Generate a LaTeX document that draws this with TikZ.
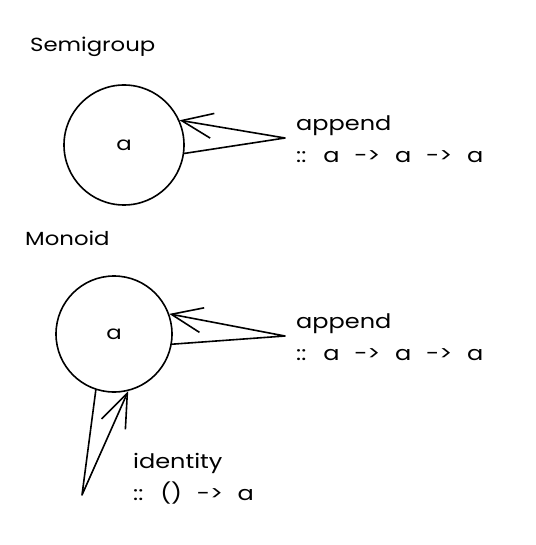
\documentclass[tikz,border=0pt]{standalone}
\usepackage{fontspec}
\setmainfont{Poppins}[FakeStretch=1.2,WordSpace=2.3]
\usetikzlibrary{arrows.meta}
\begin{document}
\begin{tikzpicture}[x=1pt,y=-1pt,
  sketch/.style={line width=1.6pt,line cap=round,line join=round},
  blob/.style={sketch,draw,circle,inner sep=0pt,minimum size=#1},
  lbl/.style={anchor=base west,inner sep=0pt,align=left,font=\fontsize{20}{32}\selectfont},
  ttl/.style={anchor=base west,inner sep=0pt,font=\fontsize{19}{23}\selectfont},
  barb/.style={-{Straight Barb[length=31pt,width=25pt,line width=1.6pt]}}
]
\useasboundingbox (0,0) rectangle (535,545);
% Semigroup
\node[ttl] (t1) at (30,52) {Semigroup};
\node[blob=120pt,font=\fontsize{19}{23}\selectfont] (s) at (124,145) {a};
\coordinate (sturn) at (285,138);
\draw[sketch,barb] (s.-8) -- (sturn) -- (s.24);
\node[lbl] (sl) at (296,163) {append\\:: a -> a -> a};
% Monoid
\node[ttl] (t2) at (25,245) {Monoid};
\node[blob=116pt,font=\fontsize{19}{23}\selectfont] (m) at (114,334) {a};
\coordinate (mturn) at (285,336);
\draw[sketch,barb] (m.-10) -- (mturn) -- (m.20);
\node[lbl] (ml) at (296,360) {append\\:: a -> a -> a};
\coordinate (iturn) at (82,495);
\draw[sketch,-{Straight Barb[length=34pt,width=26pt,line width=1.6pt]}] (m.-108) -- (iturn) -- (m.-76);
\node[lbl] (il) at (133,500) {identity\\:: () -> a};
\end{tikzpicture}
\end{document}
